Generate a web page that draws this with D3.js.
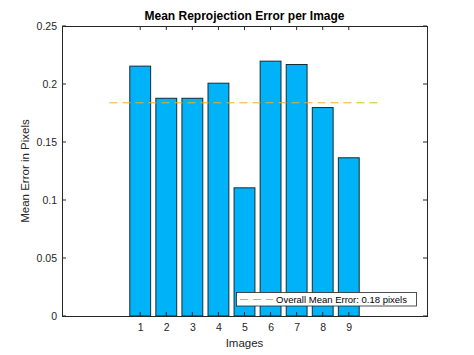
<!DOCTYPE html>
<html><head><meta charset="utf-8">
<script src="https://cdn.jsdelivr.net/npm/d3@7"></script>
<style>body{margin:0;background:#fff}svg{display:block}text{font-family:"Liberation Sans",Arial,Helvetica,sans-serif}</style>
</head><body><svg id="c" width="474" height="355"></svg>
<script>
const images = [1,2,3,4,5,6,7,8,9];
const errors = [0.2154,0.1877,0.1877,0.2007,0.1105,0.2197,0.2168,0.1797,0.1364];
const meanError = 0.1838;
const meanLineX = [-0.18, 10.21];
const yTicks = [0,0.05,0.1,0.15,0.2,0.25];
const xTicks = [1,2,3,4,5,6,7,8,9];

const W=474,H=355, L=62,R=427,T=26,B=316;
const svg=d3.select("#c");
const x=d3.scaleLinear().domain([-2,12]).range([L,R]);
const y=d3.scaleLinear().domain([0,0.25]).range([B,T]);
const bw=(x(1)-x(0))*0.8;
const g=svg.append("g");
g.selectAll("rect.bar").data(images).join("rect").attr("class","bar")
 .attr("x",(d,i)=>x(d)-bw/2).attr("width",bw)
 .attr("y",(d,i)=>y(errors[i])).attr("height",(d,i)=>y(0)-y(errors[i]))
 .attr("fill","#00b2f7").attr("stroke","#1a2a33").attr("stroke-width",1);

g.append("line").attr("x1",x(meanLineX[0])).attr("x2",x(meanLineX[1]))
 .attr("y1",y(meanError)).attr("y2",y(meanError))
 .attr("stroke","#edb120").attr("stroke-width",1).attr("stroke-dasharray","8,5");

const tc="#262626";
const ax=svg.append("g").attr("transform",`translate(0,${B})`)
 .call(d3.axisBottom(x).tickValues(xTicks).tickSize(0).tickPadding(8).tickFormat(d3.format("d")));
ax.select(".domain").remove();
ax.selectAll("text").attr("font-size",10.5).attr("fill",tc);
const ay=svg.append("g").attr("transform",`translate(${L},0)`)
 .call(d3.axisLeft(y).tickValues(yTicks).tickSize(0).tickPadding(5).tickFormat(d=>d===0?"0":String(d)));
ay.select(".domain").remove();
ay.selectAll("text").attr("font-size",10.5).attr("fill",tc);
const tk=svg.append("g").attr("stroke",tc).attr("stroke-width",1);
xTicks.forEach(v=>{tk.append("line").attr("x1",x(v)).attr("x2",x(v)).attr("y1",B).attr("y2",B-4);
 tk.append("line").attr("x1",x(v)).attr("x2",x(v)).attr("y1",T).attr("y2",T+4);});
yTicks.forEach(v=>{tk.append("line").attr("x1",L).attr("x2",L+4).attr("y1",y(v)).attr("y2",y(v));
 tk.append("line").attr("x1",R).attr("x2",R-4).attr("y1",y(v)).attr("y2",y(v));});
svg.append("rect").attr("x",L+0.5).attr("y",T+0.5).attr("width",R-L).attr("height",B-T)
 .attr("fill","none").attr("stroke",tc).attr("stroke-width",1);

const lg=svg.append("g");
lg.append("rect").attr("x",236.5).attr("y",292.5).attr("width",180).attr("height",13.5)
 .attr("fill","#fff").attr("stroke",tc).attr("stroke-width",0.8);
lg.append("line").attr("x1",240).attr("x2",273).attr("y1",299.5).attr("y2",299.5)
 .attr("stroke","#edb120").attr("stroke-width",1).attr("stroke-dasharray","8,5");
lg.append("text").attr("x",276).attr("y",303).attr("font-size",9.5).attr("fill","#000").text("Overall Mean Error: 0.18 pixels");

svg.append("text").attr("x",(L+R)/2).attr("y",20).attr("text-anchor","middle")
 .attr("font-size",12).attr("font-weight","bold").attr("fill","#000").text("Mean Reprojection Error per Image");
svg.append("text").attr("x",(L+R)/2).attr("y",347).attr("text-anchor","middle")
 .attr("font-size",11.5).attr("fill",tc).text("Images");
svg.append("text").attr("transform",`translate(29,${(T+B)/2}) rotate(-90)`).attr("text-anchor","middle")
 .attr("font-size",11.5).attr("fill",tc).text("Mean Error in Pixels");
</script></body></html>
